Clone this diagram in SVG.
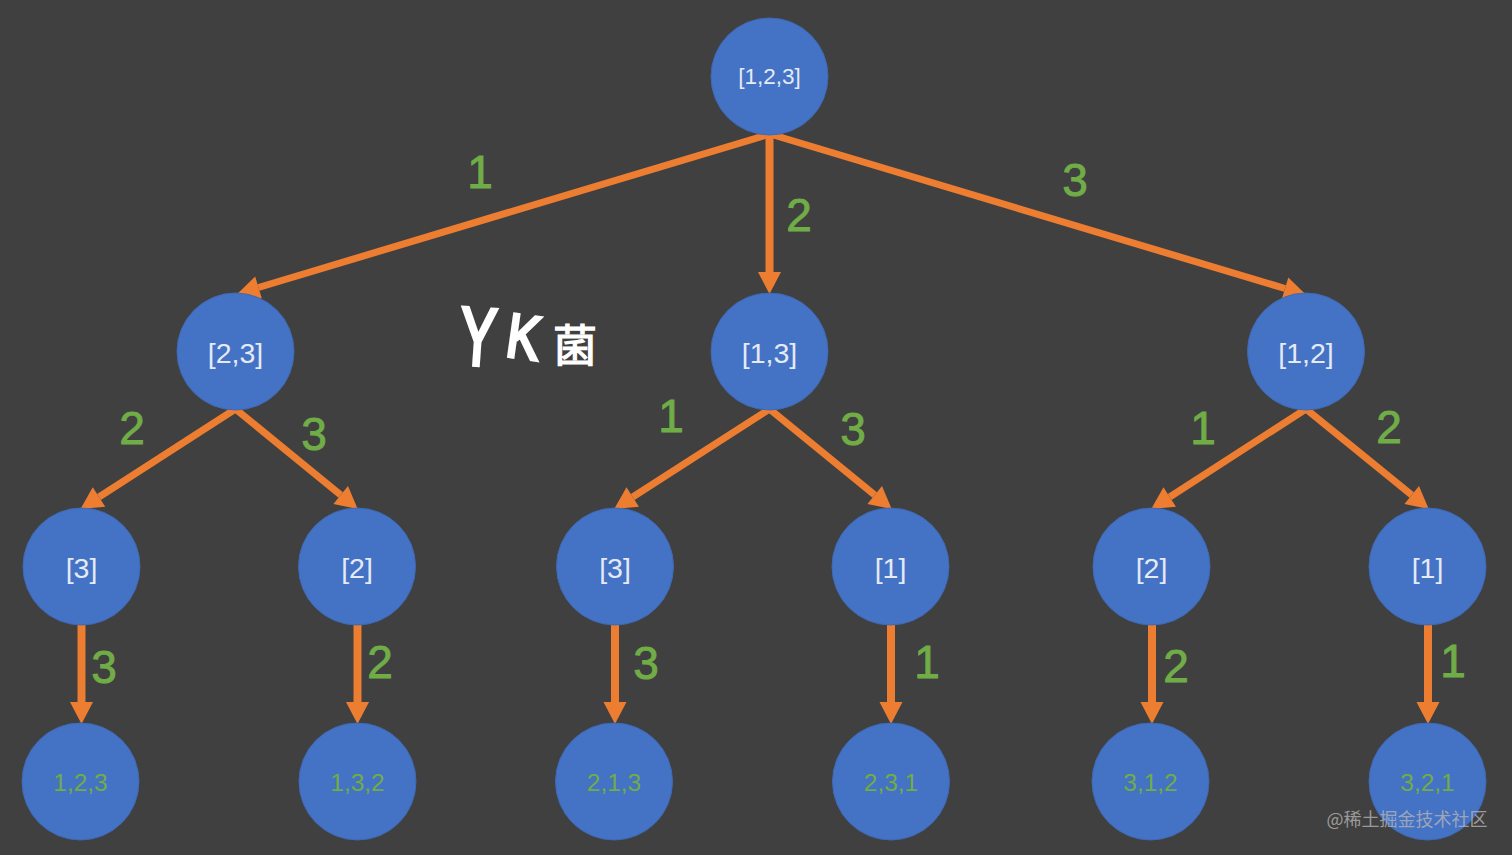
<svg xmlns="http://www.w3.org/2000/svg" width="1512" height="855" viewBox="0 0 1512 855">
<style>
.n{fill:#4472C4;stroke:#3F69B5;stroke-width:1}
.t{font-family:"Liberation Sans",Arial,sans-serif;text-anchor:middle;fill:#E4EAF6}
.m{font-size:28.500px}
.r{font-size:22.500px}
.l{font-family:"Liberation Sans",Arial,sans-serif;text-anchor:middle;fill:#70AD47;font-size:24.5px}
.e{font-family:"Liberation Sans",Arial,sans-serif;text-anchor:middle;fill:#70AD47;stroke:#70AD47;stroke-width:.9;font-size:46px}
.c{fill:none;stroke:#ED7D31;stroke-width:7;marker-end:url(#a)}
.v{stroke-width:8}
.h{fill:#fff;stroke:#fff;text-anchor:middle}
</style>
<defs>
<marker id="a" markerUnits="userSpaceOnUse" markerWidth="24" markerHeight="26" refX="0" refY="13" orient="auto" overflow="visible"><path d="M0 1.5L22 13L0 24.500Z" fill="#ED7D31"/></marker>
</defs>
<rect width="1512" height="855" fill="#404040"/>
<g id="connectors">
<path class="c" d="M770 134L258.500 287.500"/>
<path class="c v" d="M769.500 134V272"/>
<path class="c" d="M770 134L1285 288.500"/>
<path class="c" d="M235.500 409L99 497"/>
<path class="c" d="M235.500 409L340.700 495"/>
<path class="c" d="M769.500 409L632.700 497"/>
<path class="c" d="M769.500 409L874.700 495"/>
<path class="c" d="M1306 409L1169.700 497"/>
<path class="c" d="M1306 409L1411.700 495"/>
<path class="c v" d="M81.500 625V702"/>
<path class="c v" d="M357.500 625V702"/>
<path class="c v" d="M615 625V702"/>
<path class="c v" d="M891 625V702"/>
<path class="c v" d="M1152 625V702"/>
<path class="c v" d="M1428 625V702"/>
</g>
<g id="edge-labels">
<text class="e" x="480" y="187.500">1</text>
<text class="e" x="799" y="231">2</text>
<text class="e" x="1075" y="196">3</text>
<text class="e" x="132" y="443.500">2</text>
<text class="e" x="314" y="450">3</text>
<text class="e" x="671" y="431.500">1</text>
<text class="e" x="853" y="445">3</text>
<text class="e" x="1203" y="443.500">1</text>
<text class="e" x="1389" y="443">2</text>
<text class="e" x="104" y="682.500">3</text>
<text class="e" x="380" y="678">2</text>
<text class="e" x="646" y="679">3</text>
<text class="e" x="927" y="678">1</text>
<text class="e" x="1176" y="682">2</text>
<text class="e" x="1453" y="677">1</text>
</g>
<g id="n0"><circle class="n" cx="769.500" cy="76.500" r="58.500"/><text class="t r" x="769.500" y="84">[1,2,3]</text></g>
<g id="n1"><circle class="n" cx="235.500" cy="351.500" r="58.500"/><text class="t m" x="235.500" y="362.500">[2,3]</text></g>
<g id="n2"><circle class="n" cx="769.500" cy="351.500" r="58.500"/><text class="t m" x="769.500" y="362.500">[1,3]</text></g>
<g id="n3"><circle class="n" cx="1306" cy="351.500" r="58.500"/><text class="t m" x="1306" y="362.500">[1,2]</text></g>
<g id="n4"><circle class="n" cx="81.500" cy="566.500" r="58.500"/><text class="t m" x="81.500" y="577.500">[3]</text></g>
<g id="n5"><circle class="n" cx="357" cy="566.500" r="58.500"/><text class="t m" x="357" y="577.500">[2]</text></g>
<g id="n6"><circle class="n" cx="615" cy="566.500" r="58.500"/><text class="t m" x="615" y="577.500">[3]</text></g>
<g id="n7"><circle class="n" cx="890.500" cy="566.500" r="58.500"/><text class="t m" x="890.500" y="577.500">[1]</text></g>
<g id="n8"><circle class="n" cx="1151.500" cy="566.500" r="58.500"/><text class="t m" x="1151.500" y="577.500">[2]</text></g>
<g id="n9"><circle class="n" cx="1427.500" cy="566.500" r="58.500"/><text class="t m" x="1427.500" y="577.500">[1]</text></g>
<g id="n10"><circle class="n" cx="80.500" cy="781.500" r="58.500"/><text class="l" x="80.500" y="791">1,2,3</text></g>
<g id="n11"><circle class="n" cx="357.500" cy="781.500" r="58.500"/><text class="l" x="357.500" y="791">1,3,2</text></g>
<g id="n12"><circle class="n" cx="614" cy="781.500" r="58.500"/><text class="l" x="614" y="791">2,1,3</text></g>
<g id="n13"><circle class="n" cx="891" cy="781.500" r="58.500"/><text class="l" x="891" y="791">2,3,1</text></g>
<g id="n14"><circle class="n" cx="1150.500" cy="781.500" r="58.500"/><text class="l" x="1150.500" y="791">3,1,2</text></g>
<g id="n15"><circle class="n" cx="1427.500" cy="781.500" r="58.500"/><text class="l" x="1427.500" y="791">3,2,1</text></g>
<text class="h" transform="translate(476 365) rotate(4) scale(.66 1)" font-family="'Liberation Sans',sans-serif" font-size="82" stroke-width="4">Y</text>
<text class="h" transform="translate(521 358) rotate(8) scale(.8 1)" font-family="'Liberation Sans',sans-serif" font-size="62" stroke-width="3.500">K</text>
<text class="h" x="575" y="362" font-family="'Noto Sans CJK SC',sans-serif" font-size="44" stroke-width="1.200">菌</text>
<text x="1407" y="826" font-family="'Noto Sans CJK SC','Noto Sans',sans-serif" font-size="18" fill="#B4B4B4" fill-opacity=".8" text-anchor="middle">@稀土掘金技术社区</text>
</svg>
